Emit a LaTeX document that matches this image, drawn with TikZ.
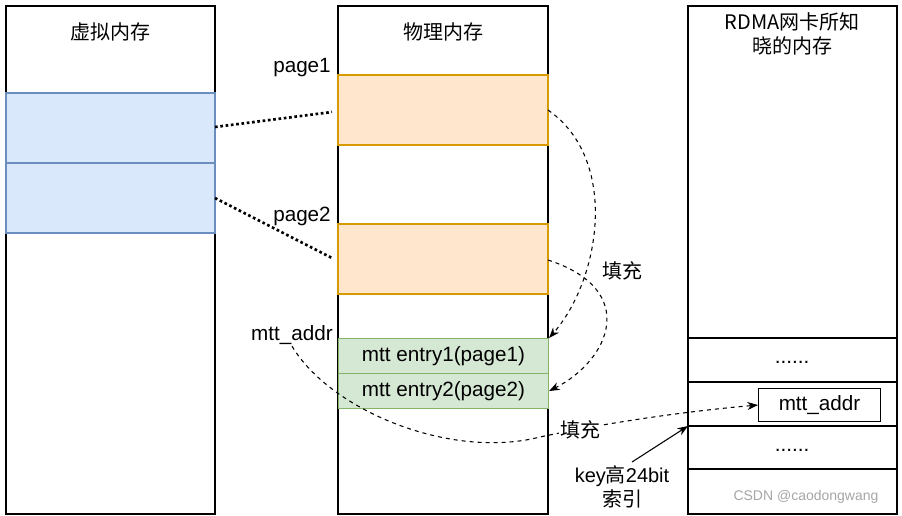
\documentclass[tikz,border=0pt]{standalone}
\usepackage{fontspec}
\setmainfont{Noto Sans CJK SC}
\newfontfamily\latf{Liberation Sans}
\usetikzlibrary{arrows.meta}
\begin{document}
\begin{tikzpicture}[x=0.75pt,y=-0.75pt,font=\fontsize{15}{18}\selectfont,
  lat/.style={font=\latf\fontsize{15.5}{18}\selectfont},
  col/.style={draw,line width=0.8pt},
  blu/.style={draw={rgb,255:red,108;green,142;blue,191},fill={rgb,255:red,218;green,232;blue,252},line width=0.8pt},
  org/.style={draw={rgb,255:red,215;green,155;blue,0},fill={rgb,255:red,255;green,230;blue,204},line width=0.8pt},
  grn/.style={draw={rgb,255:red,130;green,179;blue,102},fill={rgb,255:red,213;green,232;blue,212},line width=0.8pt},
  dot/.style={line width=2pt,dotted},
  dsh/.style={dashed,line width=0.8pt,-{Stealth[length=8pt]}},
  lab/.style={inner sep=1pt}]
\useasboundingbox (0,0) rectangle (902,515);
\fill[white] (0,0) rectangle (902,515);
\draw[col] (6,6) rectangle (215,514);
\node[lab] (t1) at (110,32) {虚拟内存};
\draw[blu] (6,93) rectangle (215,163);
\draw[blu] (6,163) rectangle (215,233);
\coordinate (v1) at (215,127);
\coordinate (v2) at (215,198);
\draw[col] (338,6) rectangle (548,514);
\node[lab] (t2) at (443,32) {物理内存};
\draw[org] (338,75) rectangle (548,145);
\draw[org] (338,224) rectangle (548,294);
\coordinate (p1l) at (332,112);
\coordinate (p2l) at (332,258);
\coordinate (p1r) at (548,110);
\coordinate (p2r) at (548,260);
\node[lab,lat] (pg1) at (302,68) {page1};
\node[lab,lat] (pg2) at (302,216) {page2};
\node[grn,lat,minimum width=210*0.75pt,minimum height=35*0.75pt,anchor=north west] (e1) at (338,338) {mtt entry1(page1)};
\node[grn,lat,minimum width=210*0.75pt,minimum height=35*0.75pt,anchor=north west] (e2) at (338,373) {mtt entry2(page2)};
\node[lab,lat] (ma) at (292,335) {mtt\_addr};
\draw[col] (688,6) rectangle (897,514);
\node[lab,align=center] (t3) at (792,34) {RDMA网卡所知\\晓的内存};
\draw[col] (688,338) -- (897,338);
\draw[col] (688,382) -- (897,382);
\draw[col] (688,426) -- (897,426);
\draw[col] (688,469) -- (897,469);
\node[lab,lat] (d1) at (792,362) {......};
\node[lab,lat] (d2) at (792,450) {......};
\node[col,lat,minimum width=122*0.75pt,minimum height=33*0.75pt,anchor=north west] (mb) at (758,388) {mtt\_addr};
\coordinate (k) at (688,426);
\draw[dot] (v1) -- (p1l);
\draw[dot] (v2) -- (p2l);
\draw[dsh] (p1r) .. controls (620,160) and (600,280) .. (e1.north east);
\draw[dsh] (p2r) .. controls (640,290) and (610,360) .. (e2.east);
\node[lab] (f1) at (622,271) {填充};
\draw[dsh] (ma.south) .. controls (330,410) and (450,460) .. (540,437) .. controls (620,420) and (700,410) .. (mb.west);
\node[lab,fill=white] (f2) at (580,430) {填充};
\node[lab,align=center] (kk) at (622,487) {{\latf key}高{\latf 24bit}\\索引};
\draw[line width=0.8pt,-{Stealth[length=8pt]}] (632,462) -- (k);
\node[lab,text=gray!70,font=\latf\fontsize{10.5}{12}\selectfont] (wm) at (806,497) {CSDN @caodongwang};
\end{tikzpicture}
\end{document}
